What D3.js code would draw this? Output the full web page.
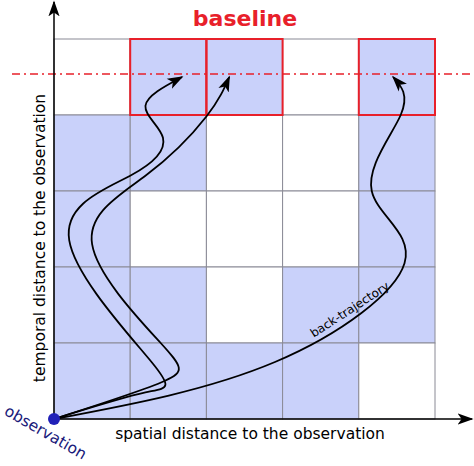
<!DOCTYPE html>
<html><head><meta charset="utf-8">
<script src="https://cdn.jsdelivr.net/npm/d3@7"></script>
<style>body{margin:0;background:#fff}</style></head>
<body><svg id="c" width="474" height="466"></svg>
<script>
// grid cells: rows from top (row 0 = baseline row), 1 = shaded
const shaded = [
  [0, 1, 1, 0, 1],
  [1, 1, 0, 0, 1],
  [1, 0, 0, 0, 1],
  [1, 1, 0, 1, 1],
  [1, 1, 1, 1, 0]
];
const baselineCols = [1, 2, 4];
const baselineLevel = 4.54;
// trajectories in grid units (x: space, y: time, origin bottom-left)
const trajA = [[0,0],[1.2,0.35],[1.28,0.75],[0.2,2.35],[1.0,3.2],[1.43,3.7],[1.2,4.12],[1.68,4.5]];
const trajB = [[0,0],[1.45,0.5],[1.4,1.0],[0.5,2.3],[1.2,3.2],[2.0,3.98],[2.3,4.5]];
const trajC = [[0,0],[2.9,0.75],[4.6,2.05],[4.17,3.0],[4.55,4.0],[4.45,4.5]];

const svg = d3.select('#c');
const x = d3.scaleLinear().domain([0, 5]).range([54, 435]);
const y = d3.scaleLinear().domain([0, 5]).range([419, 39]);
const cw = x(1) - x(0), ch = y(0) - y(1);

const defs = svg.append('defs');
defs.append('marker').attr('id', 'ah').attr('viewBox', '0 0 10 10').attr('refX', 9).attr('refY', 5)
  .attr('markerUnits', 'userSpaceOnUse').attr('markerWidth', 16).attr('markerHeight', 16)
  .attr('orient', 'auto-start-reverse')
  .append('path').attr('d', 'M0,1.5L10,5L0,8.5L2.5,5z').attr('fill', '#000');

shaded.forEach((row, r) => row.forEach((v, c) => {
  svg.append('rect').attr('x', x(c)).attr('y', y(5 - r)).attr('width', cw).attr('height', ch)
    .attr('fill', v ? '#c9d1fa' : '#fff').attr('stroke', '#8a8a95').attr('stroke-width', 1);
}));
baselineCols.forEach(c => {
  svg.append('rect').attr('x', x(c)).attr('y', y(5)).attr('width', cw).attr('height', ch)
    .attr('fill', 'none').attr('stroke', '#e8202a').attr('stroke-width', 2);
});
svg.append('line').attr('x1', 12).attr('x2', 474).attr('y1', y(baselineLevel)).attr('y2', y(baselineLevel))
  .attr('stroke', '#e8202a').attr('stroke-width', 1.5).attr('stroke-dasharray', '8,4,2,4');

// axes
svg.append('line').attr('x1', x(0)).attr('y1', y(0)).attr('x2', 472).attr('y2', y(0))
  .attr('stroke', '#000').attr('stroke-width', 1.5).attr('marker-end', 'url(#ah)');
svg.append('line').attr('x1', x(0)).attr('y1', y(0)).attr('x2', x(0)).attr('y2', 2)
  .attr('stroke', '#000').attr('stroke-width', 1.5).attr('marker-end', 'url(#ah)');

const line = d3.line().x(d => x(d[0])).y(d => y(d[1])).curve(d3.curveNatural);
[trajA, trajB, trajC].forEach((t, i) => {
  svg.append('path').attr('d', line(t)).attr('fill', 'none')
    .attr('stroke', '#000').attr('stroke-width', 1.8).attr('marker-end', 'url(#ah)');
});

svg.append('text').attr('x', 352).attr('y', 313).attr('transform', 'rotate(-33,352,313)')
  .attr('text-anchor', 'middle').attr('font-family', 'DejaVu Sans').attr('font-size', 12).text('back-trajectory');

svg.append('circle').attr('cx', x(0)).attr('cy', y(0)).attr('r', 6).attr('fill', '#2020b8');

svg.append('text').attr('x', 245).attr('y', 26).attr('text-anchor', 'middle')
  .attr('font-family', 'DejaVu Sans').attr('font-weight', 'bold').attr('font-size', 22).attr('fill', '#e8202a').text('baseline');
svg.append('text').attr('x', 250).attr('y', 439).attr('text-anchor', 'middle')
  .attr('font-family', 'DejaVu Sans').attr('font-size', 15.5).text('spatial distance to the observation');
svg.append('text').attr('transform', 'translate(45,238) rotate(-90)').attr('text-anchor', 'middle')
  .attr('font-family', 'DejaVu Sans').attr('font-size', 15.5).text('temporal distance to the observation');
svg.append('text').attr('transform', 'translate(43,437) rotate(30)').attr('text-anchor', 'middle')
  .attr('font-family', 'DejaVu Sans').attr('font-size', 15.5).attr('fill', '#1a1a7a').text('observation');
</script></body></html>
